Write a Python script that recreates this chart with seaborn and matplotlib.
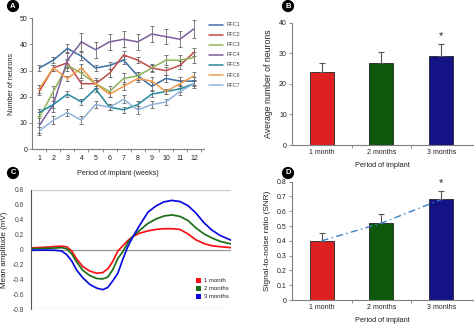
import matplotlib
matplotlib.use("Agg")
import matplotlib.pyplot as plt
import seaborn as sns
import pandas as pd
import numpy as np
from matplotlib.patches import Patch

# ---------------- data ----------------
weeks = list(range(1, 13))
rfc1 = [31, 34, 38.5, 35.5, 31, 32, 34, 28, 24, 27, 26, 26]
rfc2 = [22, 31, 33, 25, 25, 29, 36, 34, 31, 30, 32, 37]
rfc3 = [12, 22, 32, 29, 25, 22, 27, 28, 31, 34, 34, 35]
rfc4 = [9, 17, 34, 41, 38, 41, 42, 41, 44, 43, 42, 46]
rfc5 = [14, 17, 21, 18, 23, 16, 15, 17, 21, 22, 23, 25]
rfc6 = [23, 31, 27, 31, 25, 21, 24, 27, 26, 22, 25, 28]
rfc7 = [7, 11, 14, 11, 17, 16, 19, 15, 17, 18, 22, 25]
err1 = [1.2, 1.2, 1.8, 1.5, 1.2, 1.2, 1.5, 1.5, 1.5, 1.5, 1.5, 1.5]
err2 = [1.5, 1.0, 1.5, 1.5, 1.5, 1.5, 1.5, 1.2, 1.2, 1.5, 1.5, 1.5]
err3 = [2.0, 2.0, 2.0, 2.0, 2.0, 2.0, 2.0, 1.5, 1.5, 2.0, 2.0, 2.0]
err4 = [3.0, 3.0, 3.0, 3.5, 3.0, 3.0, 3.0, 3.0, 3.0, 3.0, 3.0, 3.5]
err5 = [1.2, 1.2, 1.2, 1.2, 1.2, 1.2, 1.2, 1.2, 1.2, 1.0, 1.0, 1.0]
err6 = [1.5, 1.0, 1.0, 1.5, 1.5, 1.0, 1.5, 1.5, 1.5, 1.0, 1.5, 1.5]
err7 = [1.5, 1.5, 1.5, 1.5, 1.2, 1.0, 1.5, 1.5, 1.2, 1.2, 1.5, 1.5]
rfc_names = ["RFC1", "RFC2", "RFC3", "RFC4", "RFC5", "RFC6", "RFC7"]

months = ["1 month", "2 months", "3 months"]
avg_neurons = [24.0, 26.8, 29.1]
avg_err = [2.9, 3.5, 4.0]
snr = [0.40, 0.52, 0.68]
snr_err = [0.055, 0.06, 0.056]

time_ms = [0.0, 0.14, 0.24, 0.31, 0.36, 0.41, 0.46, 0.52, 0.59, 0.66, 0.72, 0.77,
           0.82, 0.87, 0.92, 0.97, 1.02, 1.09, 1.17, 1.25, 1.33, 1.41, 1.49, 1.57,
           1.65, 1.73, 1.81, 1.89, 2.0]
amp_1m = [0.02, 0.03, 0.04, 0.045, 0.035, -0.02, -0.13, -0.23, -0.29, -0.32, -0.31, -0.26,
          -0.16, -0.02, 0.05, 0.12, 0.175, 0.22, 0.25, 0.27, 0.28, 0.28, 0.27, 0.21,
          0.13, 0.08, 0.05, 0.038, 0.025]
amp_2m = [0.01, 0.015, 0.02, 0.025, 0.01, -0.06, -0.17, -0.28, -0.35, -0.39, -0.395, -0.37,
          -0.27, -0.12, -0.03, 0.09, 0.175, 0.26, 0.35, 0.41, 0.45, 0.465, 0.445, 0.39,
          0.29, 0.21, 0.155, 0.11, 0.075]
amp_3m = [-0.01, -0.008, -0.01, -0.02, -0.07, -0.155, -0.28, -0.38, -0.47, -0.52, -0.54, -0.51,
          -0.42, -0.32, -0.13, 0.04, 0.17, 0.33, 0.5, 0.585, 0.64, 0.66, 0.645, 0.59,
          0.49, 0.36, 0.26, 0.19, 0.125]

# ---------------- style ----------------
sns.set_style("ticks")
plt.rcParams['font.family'] = ['Liberation Sans', 'DejaVu Sans']
plt.rcParams['axes.unicode_minus'] = False

rfc_colors = ["#3a6ea5", "#be4b48", "#8fb457", "#7d5f9e", "#24889f", "#f2994a", "#92b3da"]
bar_colors = ["#ff0000", "#006400", "#000099"]
wave_colors = ["#ff1010", "#1a6e1a", "#0a0ae0"]
axis_gray = "#7f7f7f"
txt = "#222222"

fig = plt.figure(figsize=(4.74, 3.25), dpi=100)

def style_spines(ax):
    for s in ["top", "right"]:
        ax.spines[s].set_visible(False)
    for s in ["left", "bottom"]:
        ax.spines[s].set_color(axis_gray)
        ax.spines[s].set_linewidth(0.8)
    ax.tick_params(colors=axis_gray, labelcolor=txt, labelsize=5, length=2, width=0.6, pad=1.5)

# ---------------- panel A ----------------
axA = fig.add_axes([0.068, 0.5415, 0.362, 0.402])
series = [rfc1, rfc2, rfc3, rfc4, rfc5, rfc6, rfc7]
errs = [err1, err2, err3, err4, err5, err6, err7]
dfA = pd.DataFrame({
    "week": weeks * 7,
    "neurons": sum(series, []),
    "rfc": sum([[n] * 12 for n in rfc_names], []),
})
sns.lineplot(data=dfA, x="week", y="neurons", hue="rfc", palette=rfc_colors,
             linewidth=1.1, ax=axA, legend=True)
for vals, e in zip(series, errs):
    axA.errorbar(weeks, vals, yerr=e, fmt="none", ecolor="#666666", elinewidth=0.6,
                 capsize=1.3, capthick=0.6, zorder=1)
axA.set_xlim(0.5, 12.7)
axA.set_ylim(0, 50)
axA.set_xticks(weeks)
axA.set_xticks([w + 0.5 for w in weeks], minor=True)
axA.set_yticks([0, 10, 20, 30, 40, 50])
style_spines(axA)
axA.tick_params(axis="x", which="major", length=0, pad=4)
axA.tick_params(axis="x", which="minor", length=2, colors=axis_gray, width=0.6)
axA.set_xlabel("Period of implant (weeks)", fontsize=5.2, color=txt, labelpad=6)
axA.set_ylabel("Number of neurons", fontsize=5.2, color=txt, labelpad=3)
leg = axA.legend(loc="upper left", bbox_to_anchor=(1.02, 0.985), frameon=False,
                 fontsize=3.8, handlelength=2.6, labelspacing=0.95, handletextpad=0.6,
                 borderaxespad=0)
for t in leg.get_texts():
    t.set_color("#444444")

# ---------------- panel B ----------------
axB = fig.add_axes([0.6154, 0.5538, 0.3825, 0.3763])
sns.barplot(x=months, y=avg_neurons, hue=months, palette=bar_colors, legend=False,
            width=0.4, edgecolor="#222222", linewidth=0.6, ax=axB)
axB.errorbar(range(3), avg_neurons, yerr=[[0, 0, 0], avg_err], fmt="none",
             ecolor="#555555", elinewidth=0.8, capsize=2, capthick=0.8)
axB.text(2, avg_neurons[2] + avg_err[2] + 1.0, "*", ha="center", va="bottom",
         fontsize=8, color=txt)
axB.set_xlim(-0.5, 2.53)
axB.set_ylim(0, 40)
axB.set_yticks([0, 10, 20, 30, 40])
axB.set_xticks([0.5, 1.5], minor=True)
style_spines(axB)
axB.tick_params(axis="x", which="major", length=0, labelsize=5, pad=3)
axB.tick_params(axis="x", which="minor", length=2, colors=axis_gray)
axB.set_xlabel("Period of implant", fontsize=5.3, color=txt, labelpad=4)
axB.set_ylabel("Average number of neurons", fontsize=6.3, color=txt, labelpad=4)

# ---------------- panel C ----------------
axC = fig.add_axes([0.0648, 0.0492, 0.4225, 0.3662])
dfC = pd.DataFrame({
    "t": time_ms * 3,
    "amp": amp_1m + amp_2m + amp_3m,
    "group": ["1 month"] * len(time_ms) + ["2 months"] * len(time_ms) + ["3 months"] * len(time_ms),
})
axC.axhline(0.8, color="#cccccc", lw=0.9, zorder=0)
axC.axhline(-0.8, color="#cccccc", lw=0.9, zorder=0)
axC.axhline(0, color="#999999", lw=0.9, zorder=0)
sns.lineplot(data=dfC, x="t", y="amp", hue="group", palette=wave_colors,
             linewidth=1.25, ax=axC, legend=False, sort=False)
axC.set_xlim(0, 2.0)
axC.set_ylim(-0.8, 0.8)
yt = [0.8, 0.6, 0.4, 0.2, 0, -0.2, -0.4, -0.6, -0.8]
axC.set_yticks(yt)
axC.set_yticklabels(["0.8", "0.6", "0.4", "0.2", "0", "-0.2", "-0.4", "-0.6", "-0.8"])
axC.set_xticks([])
for s in ["top", "right", "bottom"]:
    axC.spines[s].set_visible(False)
axC.spines["left"].set_color("#555555")
axC.spines["left"].set_linewidth(0.8)
axC.tick_params(axis="y", length=0, labelsize=4.8, labelcolor="#444444", pad=5)
axC.set_xlabel("")
axC.set_ylabel("Mean amplitude (mV)", fontsize=5.8, color=txt, labelpad=3)
handles = [Patch(facecolor=c, edgecolor="none") for c in wave_colors]
axC.legend(handles, months, loc="lower right", bbox_to_anchor=(1.0, 0.06), frameon=False,
           fontsize=4.3, handlelength=0.8, handleheight=0.8, labelspacing=0.45,
           handletextpad=0.5, borderaxespad=0)

# ---------------- panel D ----------------
axD = fig.add_axes([0.6154, 0.0769, 0.3825, 0.364])
sns.barplot(x=months, y=snr, hue=months, palette=bar_colors, legend=False,
            width=0.4, edgecolor="#222222", linewidth=0.6, ax=axD)
axD.errorbar(range(3), snr, yerr=[[0, 0, 0], snr_err], fmt="none",
             ecolor="#555555", elinewidth=0.8, capsize=2, capthick=0.8)
sns.lineplot(x=[0, 1, 2], y=snr, color="#3b7fc4", linewidth=1.0,
             linestyle=(0, (5, 2.5, 1, 2.5)), ax=axD)
axD.text(2, snr[2] + snr_err[2] + 0.02, "*", ha="center", va="bottom",
         fontsize=8, color=txt)
axD.set_xlim(-0.5, 2.53)
axD.set_ylim(0, 0.8)
axD.set_yticks([0, 0.1, 0.2, 0.3, 0.4, 0.5, 0.6, 0.7, 0.8])
axD.set_yticklabels(["0", "0.1", "0.2", "0.3", "0.4", "0.5", "0.6", "0.7", "0.8"])
axD.set_xticks([0, 1, 2])
axD.set_xticklabels(months)
axD.set_xticks([0.5, 1.5], minor=True)
style_spines(axD)
axD.tick_params(axis="x", which="major", length=0, labelsize=5, pad=3)
axD.tick_params(axis="x", which="minor", length=2, colors=axis_gray)
axD.set_xlabel("Period of implant", fontsize=5.3, color=txt, labelpad=4)
axD.set_ylabel("Signal-to-noise ratio (SNR)", fontsize=6.0, color=txt, labelpad=4)

# ---------------- panel letters ----------------
for letter, (px, py) in {"A": (13, 6), "B": (288, 6), "C": (13, 173), "D": (288, 173)}.items():
    fig.text(px / 474, 1 - py / 325, letter, ha="center", va="center", fontsize=5.5,
             fontweight="bold", color="white",
             bbox=dict(boxstyle="circle,pad=0.25", facecolor="black", edgecolor="black"))

fig.savefig("out.png", dpi=100)
